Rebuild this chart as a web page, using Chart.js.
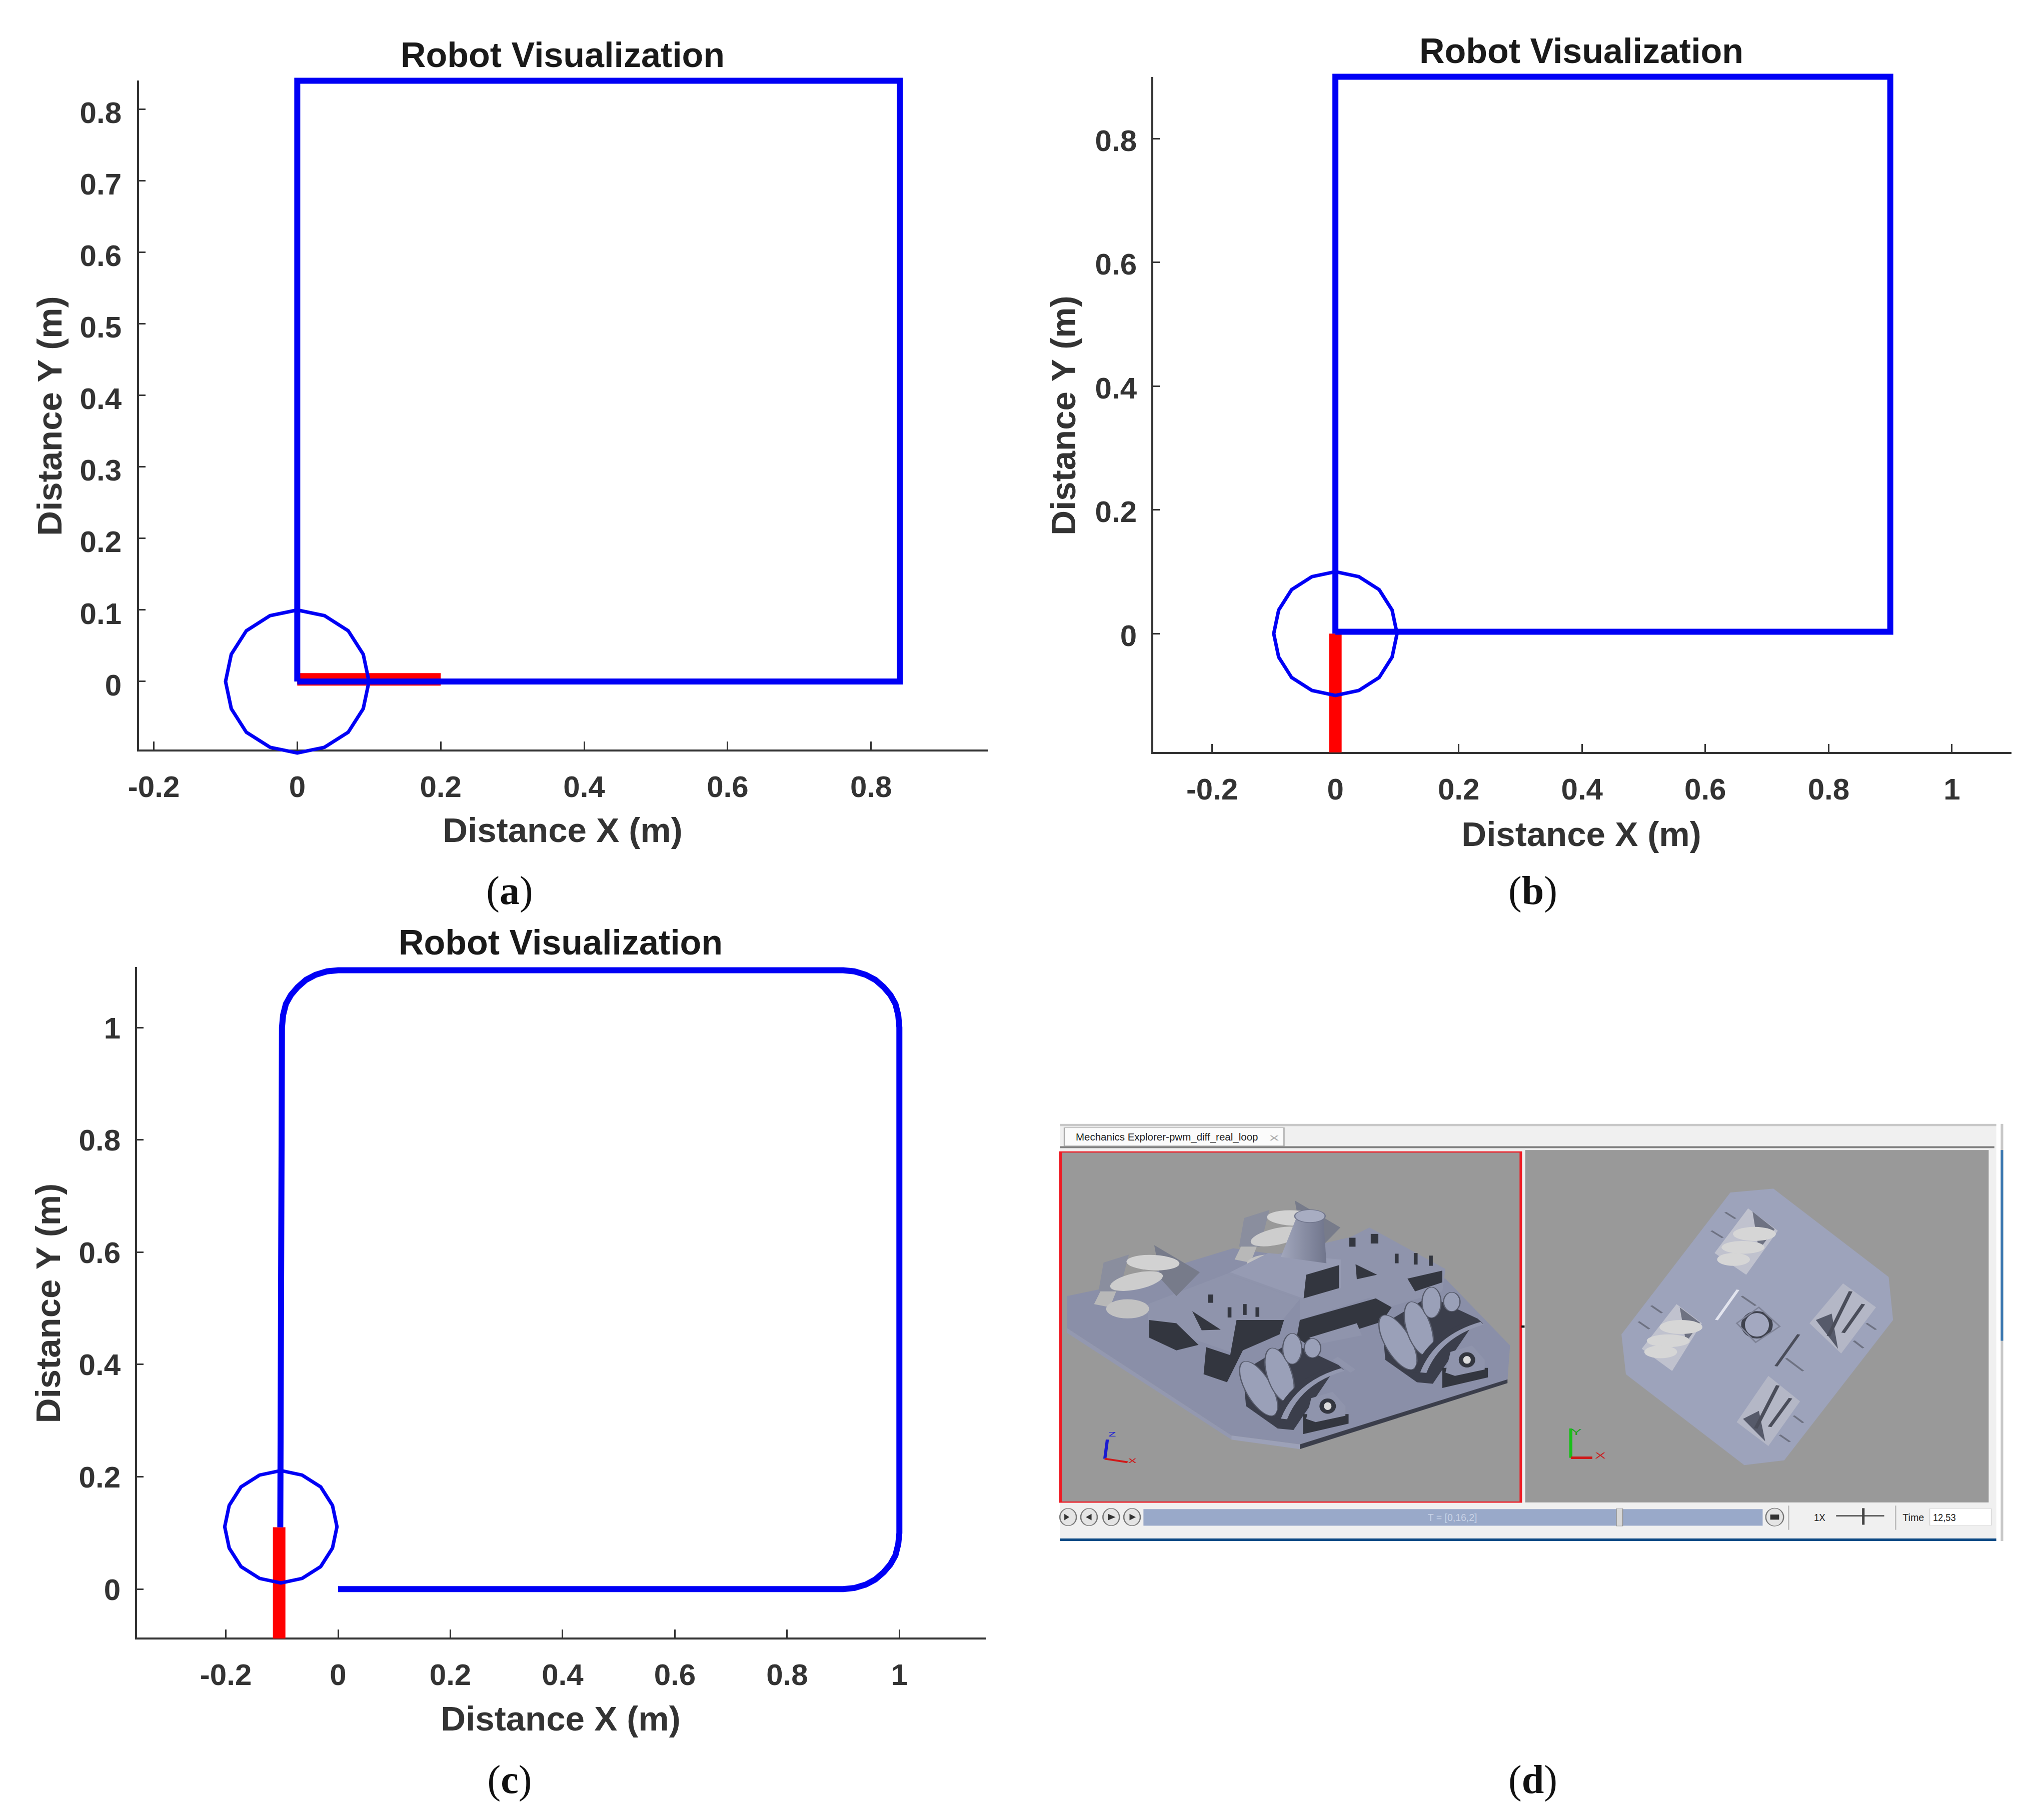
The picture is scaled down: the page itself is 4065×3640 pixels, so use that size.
<!DOCTYPE html>
<html>
<head>
<meta charset="utf-8">
<title>Robot Visualization</title>
<script src="https://cdn.jsdelivr.net/npm/chart.js@4/dist/chart.umd.min.js"></script>
<style>
    html, body { margin: 0; padding: 0; background: #fff; width: 4065px; height: 3640px; overflow: hidden; }
    canvas { position: absolute; }
    .caption { position: absolute; width: 300px; text-align: center; font: 80px/96px "Liberation Serif", serif; color: #111; }
    .caption b { font-weight: bold; }
    #sim { position: absolute; left: 2080px; top: 2200px; width: 1985px; height: 1000px; }
    #sim text { font-family: "Liberation Sans", sans-serif; }
</style>
</head>
<body>
<canvas id="chartA"></canvas>
<canvas id="chartB"></canvas>
<canvas id="chartC"></canvas>

<div class="caption" style="left:869px;top:1733px">(<b>a</b>)</div>
<div class="caption" style="left:2915px;top:1733px">(<b>b</b>)</div>
<div class="caption" style="left:869px;top:3511px">(<b>c</b>)</div>
<div class="caption" style="left:2915px;top:3511px">(<b>d</b>)</div>

<!-- panel d is a screenshot of the simulator, sketched by hand -->
<svg id="sim" viewBox="0 0 1568 1568" preserveAspectRatio="none">
    <defs>
        <linearGradient id="column" x1="0" x2="1" y1="0" y2="0">
            <stop offset="0" stop-color="#a2a7bc"/>
            <stop offset="1" stop-color="#70758c"/>
        </linearGradient>
        <g id="rearWheel">
            <polygon points="100,510 140,485 125,600 92,600" fill="#8a8e9e"/>
            <polygon points="180,455 252,540 215,615 190,560" fill="#777b8a"/>
            <polygon points="95,600 120,600 110,650 85,640" fill="#b8b8b8"/>
            <ellipse cx="178" cy="510" rx="42" ry="24" fill="#d2d2d2" transform="rotate(6 178 510)"/>
            <ellipse cx="152" cy="568" rx="46" ry="24" fill="#cdcdcd" transform="rotate(-30 152 568)"/>
            <ellipse cx="138" cy="655" rx="34" ry="30" fill="#c2c2c2"/>
        </g>
        <g id="frontWheel">
            <polygon points="320,850 395,760 470,830 400,1035 375,1030 325,960" fill="#3b3e4b"/>
            <g fill="#9aa0b8" stroke="#565a6a" stroke-width="2">
                <ellipse cx="345" cy="905" rx="22" ry="88" transform="rotate(-14 345 905)"/>
                <ellipse cx="378" cy="862" rx="20" ry="85" transform="rotate(-8 378 862)"/>
                <ellipse cx="398" cy="780" rx="15" ry="48"/>
                <ellipse cx="430" cy="778" rx="13" ry="30"/>
            </g>
            <path d="M378,1000 Q400,880 475,838" fill="none" stroke="#3b3e4b" stroke-width="18"/>
            <path d="M385,1000 Q408,885 478,845" fill="none" stroke="#9398b0" stroke-width="10"/>
            <polygon points="415,1048 415,985 487,985 487,1015" fill="#33363f"/>
            <polygon points="420,1000 428,935 462,915 482,960 482,990 435,1010" fill="#8f94ac"/>
            <ellipse cx="454" cy="960" rx="13" ry="24" fill="#33363f"/>
            <ellipse cx="454" cy="960" rx="6" ry="12" fill="#dcdcdc"/>
        </g>
    </defs>

    <rect x="31" y="75" width="1479" height="1300" fill="#f0f0f0"/>
    <rect x="31" y="75" width="1479" height="7" fill="#c8c8c8"/>
    <rect x="1517" y="75" width="4" height="1308" fill="#c8c8c8"/>
    <rect x="1517" y="157" width="4" height="598" fill="#3c78b0"/>
    <rect x="38" y="87" width="347" height="57" fill="#fbfbfb" stroke="#aaa" stroke-width="2"/>
    <text x="56" y="127" font-size="32" textLength="288" lengthAdjust="spacingAndGlyphs" fill="#222">Mechanics Explorer-pwm_diff_real_loop</text>
    <text x="362" y="127" font-size="30" fill="#aaa">x</text>
    <rect x="31" y="145" width="1476" height="6" fill="#808080"/>

    <rect x="32" y="163" width="727" height="1098" fill="#999999" stroke="#ee1c25" stroke-width="4"/>
    <rect x="766" y="157" width="732" height="1105" fill="#999999"/>
    <rect x="760" y="707" width="5" height="7" fill="#111"/>

    <!-- left view: base plate -->
    <polygon points="42,615 90,595 305,465 640,560 742,770 738,878 410,1080 302,1052 42,715" fill="#8a8fa8"/>
    <polygon points="42,715 302,1052 302,1065 42,730" fill="#9398b0"/>
    <polygon points="302,1052 410,1080 410,1095 302,1065" fill="#9ca1b8"/>
    <polygon points="410,1080 738,876 738,888 410,1095" fill="#3b3e4b"/>
    <!-- left view: body -->
    <polygon points="170,640 295,545 410,625 385,685 300,790 170,700" fill="#8f94ac"/>
    <polygon points="295,545 360,490 490,430 520,400 640,530 635,600 550,650 520,620 410,690 410,625" fill="#8f94ac"/>
    <polygon points="172,690 215,700 250,768 215,785 172,745" fill="#33363f"/>
    <polygon points="262,775 300,800 310,690 385,690 378,735 320,785 295,885 258,860" fill="#33363f"/>
    <polygon points="410,690 530,622 555,650 540,695 500,720 420,765 405,745" fill="#33363f"/>
    <polygon points="425,745 500,700 508,738 440,765" fill="#8f94ac"/>
    <polygon points="470,805 498,845 490,855 462,815" fill="#8f94ac"/>
    <g fill="#33363f">
        <polygon points="498,515 532,548 500,562"/>
        <polygon points="240,662 285,720 255,722"/>
        <polygon points="580,560 635,535 635,572 592,600"/>
        <rect x="488" y="432" width="10" height="28"/>
        <rect x="522" y="420" width="12" height="30"/>
        <rect x="560" y="482" width="6" height="30"/>
        <rect x="590" y="480" width="6" height="36"/>
        <rect x="614" y="488" width="6" height="32"/>
        <rect x="296" y="650" width="6" height="32"/>
        <rect x="320" y="640" width="6" height="34"/>
        <rect x="340" y="650" width="6" height="30"/>
        <rect x="265" y="610" width="8" height="26"/>
    </g>
    <use href="#rearWheel"/>
    <use href="#rearWheel" transform="translate(222,-140)"/>
    <!-- left view: column -->
    <polygon points="300,540 360,480 475,500 475,590 415,622" fill="#969bb3"/>
    <polygon points="420,548 472,518 472,590 416,622" fill="#33363f"/>
    <polygon points="406,362 447,362 452,512 380,492" fill="url(#column)"/>
    <ellipse cx="426" cy="364" rx="24" ry="20" fill="#a8adc2" stroke="#70758c" stroke-width="2"/>
    <use href="#frontWheel"/>
    <use href="#frontWheel" transform="translate(220,-145)"/>
    <!-- left view: axes triad -->
    <line x1="106" y1="1065" x2="102" y2="1125" stroke="#1a1ad0" stroke-width="5"/>
    <line x1="102" y1="1125" x2="138" y2="1136" stroke="#d01818" stroke-width="6"/>
    <text x="107" y="1056" font-size="26" fill="#2a2ad0">z</text>
    <text x="139" y="1138" font-size="26" fill="#c82020">x</text>

    <!-- right view -->
    <polygon points="1090,290 1158,278 1340,555 1347,690 1175,1130 1112,1145 925,860 918,735" fill="#9da3bb"/>
    <polygon points="1118,340 1165,410 1115,548 1065,480" fill="#c0c2ce"/>
    <polygon points="1125,350 1160,405 1135,470" fill="#6e7282"/>
    <ellipse cx="1128" cy="420" rx="34" ry="22" fill="#d6d6d6"/>
    <ellipse cx="1110" cy="462" rx="34" ry="20" fill="#d6d6d6"/>
    <ellipse cx="1095" cy="500" rx="26" ry="20" fill="#d6d6d6"/>
    <polygon points="1005,640 1045,700 998,850 950,780" fill="#c0c2ce"/>
    <polygon points="1010,650 1042,698 1020,760" fill="#6e7282"/>
    <ellipse cx="1012" cy="712" rx="34" ry="22" fill="#d6d6d6"/>
    <ellipse cx="992" cy="755" rx="34" ry="20" fill="#d6d6d6"/>
    <ellipse cx="980" cy="790" rx="26" ry="20" fill="#d6d6d6"/>
    <polygon points="1268,575 1320,650 1265,795 1215,700" fill="#b4b7c6"/>
    <polygon points="1225,690 1250,670 1260,780" fill="#565a6a"/>
    <line x1="1280" y1="600" x2="1245" y2="740" stroke="#4a4d5a" stroke-width="6"/>
    <line x1="1300" y1="640" x2="1268" y2="730" stroke="#4a4d5a" stroke-width="6"/>
    <polygon points="1150,865 1200,945 1150,1085 1100,1010" fill="#b4b7c6"/>
    <polygon points="1110,1000 1135,975 1145,1070" fill="#565a6a"/>
    <line x1="1165" y1="895" x2="1130" y2="1030" stroke="#4a4d5a" stroke-width="6"/>
    <line x1="1185" y1="935" x2="1152" y2="1025" stroke="#4a4d5a" stroke-width="6"/>
    <ellipse cx="1132" cy="705" rx="22" ry="40" fill="#a3a8c0" stroke="#3f424e" stroke-width="6"/>
    <polygon points="1100,700 1135,650 1168,710 1130,760" fill="none" stroke="#7e8296" stroke-width="3"/>
    <line x1="1102" y1="595" x2="1068" y2="690" stroke="#e2e4ee" stroke-width="5"/>
    <line x1="1198" y1="735" x2="1162" y2="835" stroke="#4a4d5a" stroke-width="5"/>
    <g stroke="#6e7282" stroke-width="4">
        <line x1="1060" y1="410" x2="1078" y2="432"/>
        <line x1="1082" y1="352" x2="1098" y2="372"/>
        <line x1="945" y1="695" x2="962" y2="718"/>
        <line x1="965" y1="645" x2="982" y2="668"/>
        <line x1="1305" y1="700" x2="1320" y2="720"/>
        <line x1="1285" y1="755" x2="1300" y2="778"/>
        <line x1="1190" y1="990" x2="1205" y2="1012"/>
        <line x1="1168" y1="1050" x2="1184" y2="1072"/>
        <line x1="1108" y1="615" x2="1130" y2="645"/>
        <line x1="1178" y1="810" x2="1205" y2="850"/>
    </g>
    <line x1="838" y1="1030" x2="838" y2="1122" stroke="#18c018" stroke-width="5"/>
    <line x1="838" y1="1122" x2="872" y2="1122" stroke="#d01818" stroke-width="8"/>
    <text x="838" y="1050" font-size="26" fill="#20a020">Y</text>
    <text x="876" y="1124" font-size="26" fill="#c82020">X</text>

    <!-- player controls -->
    <g fill="#e4e4e4" stroke="#777" stroke-width="2">
        <ellipse cx="44" cy="1308" rx="13" ry="27"/>
        <ellipse cx="77" cy="1308" rx="13" ry="27"/>
        <ellipse cx="112" cy="1308" rx="13" ry="27"/>
        <ellipse cx="145" cy="1308" rx="13" ry="27"/>
        <ellipse cx="1160" cy="1308" rx="14" ry="28"/>
    </g>
    <g fill="#333">
        <polygon points="38,1298 38,1318 46,1308"/>
        <polygon points="81,1298 81,1318 72,1308"/>
        <polygon points="107,1298 107,1318 119,1308"/>
        <polygon points="141,1298 141,1318 151,1308"/>
        <rect x="1153" y="1300" width="14" height="16"/>
    </g>
    <rect x="163" y="1283" width="978" height="52" fill="#99a9c9"/>
    <rect x="910" y="1282" width="10" height="54" fill="#d8d8d8" stroke="#888" stroke-width="1"/>
    <text x="612" y="1321" font-size="32" textLength="78" lengthAdjust="spacingAndGlyphs" fill="#c8d2e6">T = [0,16,2]</text>
    <rect x="1181" y="1272" width="2" height="76" fill="#bbb"/>
    <rect x="1350" y="1272" width="2" height="76" fill="#bbb"/>
    <text x="1222" y="1321" font-size="32" textLength="18" lengthAdjust="spacingAndGlyphs" fill="#222">1X</text>
    <rect x="1257" y="1302" width="76" height="4" fill="#444"/>
    <rect x="1298" y="1280" width="4" height="52" fill="#444"/>
    <text x="1362" y="1321" font-size="32" textLength="34" lengthAdjust="spacingAndGlyphs" fill="#222">Time</text>
    <rect x="1405" y="1282" width="97" height="52" fill="#fff" stroke="#ccc" stroke-width="1"/>
    <text x="1410" y="1321" font-size="32" textLength="36" lengthAdjust="spacingAndGlyphs" fill="#222">12,53</text>
    <rect x="31" y="1375" width="1479" height="8" fill="#0e4a85"/>
</svg>

<script>
// Panel a - square path
const pathAX = [0, 0, 0.84, 0.84, 0];
const pathAY = [0, 0.84, 0.84, 0, 0];
const circleAX = [0, 0.038, 0.071, 0.092, 0.1, 0.092, 0.071, 0.038, 0, -0.038, -0.071, -0.092, -0.1, -0.092, -0.071, -0.038, 0];
const circleAY = [0.1, 0.092, 0.071, 0.038, 0, -0.038, -0.071, -0.092, -0.1, -0.092, -0.071, -0.038, 0, 0.038, 0.071, 0.092, 0.1];
const headAX = [0, 0.2];
const headAY = [0.003, 0.003];
const xTicksA = [-0.2, 0, 0.2, 0.4, 0.6, 0.8];
const yTicksA = [0, 0.1, 0.2, 0.3, 0.4, 0.5, 0.6, 0.7, 0.8];

// Panel b - larger square path
const pathBX = [0, 0, 0.9, 0.9, 0];
const pathBY = [0, 0.9, 0.9, 0.003, 0.003];
const circleBX = [0, 0.038, 0.071, 0.092, 0.1, 0.092, 0.071, 0.038, 0, -0.038, -0.071, -0.092, -0.1, -0.092, -0.071, -0.038, 0];
const circleBY = [0.1, 0.092, 0.071, 0.038, 0, -0.038, -0.071, -0.092, -0.1, -0.092, -0.071, -0.038, 0, 0.038, 0.071, 0.092, 0.1];
const headBX = [0, 0];
const headBY = [0, -0.192];
const xTicksB = [-0.2, 0, 0.2, 0.4, 0.6, 0.8, 1];
const yTicksB = [0, 0.2, 0.4, 0.6, 0.8];

// Panel c - rounded path
const pathCX = [0, 0.9, 0.92, 0.94, 0.957, 0.972, 0.984, 0.993, 0.998, 1, 1, 0.998, 0.993, 0.984, 0.972, 0.957, 0.94, 0.92, 0.9, 0, -0.02, -0.04, -0.057, -0.072, -0.084, -0.093, -0.098, -0.1, -0.103];
const pathCY = [0, 0, 0.002, 0.008, 0.017, 0.03, 0.044, 0.06, 0.08, 0.1, 1, 1.022, 1.042, 1.058, 1.072, 1.085, 1.094, 1.1, 1.102, 1.102, 1.1, 1.094, 1.085, 1.072, 1.058, 1.042, 1.022, 1, 0.11];
const circleCX = [-0.102, -0.064, -0.031, -0.01, -0.002, -0.01, -0.031, -0.064, -0.102, -0.14, -0.173, -0.194, -0.202, -0.194, -0.173, -0.14, -0.102];
const circleCY = [0.211, 0.203, 0.182, 0.149, 0.111, 0.073, 0.04, 0.019, 0.011, 0.019, 0.04, 0.073, 0.111, 0.149, 0.182, 0.203, 0.211];
const headCX = [-0.105, -0.105];
const headCY = [0.11, -0.088];
const xTicksC = [-0.2, 0, 0.2, 0.4, 0.6, 0.8, 1];
const yTicksC = [0, 0.2, 0.4, 0.6, 0.8, 1];

const FONT = '"Liberation Sans", Arial, sans-serif';

function toPoints(xs, ys) {
    return xs.map((x, i) => ({ x: x, y: ys[i] }));
}

// Chart.js has no vertical offset for y tick labels, nudge them just before drawing
const nudgeYLabels = {
    id: 'nudgeYLabels',
    beforeDraw(chart, args, opts) {
        chart.scales.y.getLabelItems(chart.chartArea).forEach(item => {
            item.options.translation[1] += opts.shift;
        });
    }
};

function makeRobotChart(id, box, series, xTicks, yTicks) {
    const canvas = document.getElementById(id);
    canvas.width = box.right - box.left;
    canvas.height = box.bottom - box.top;
    canvas.style.left = box.left + 'px';
    canvas.style.top = box.top + 'px';

    new Chart(canvas, {
        type: 'scatter',
        plugins: [nudgeYLabels],
        data: {
            datasets: [
                { data: toPoints(series.pathX, series.pathY), showLine: true, borderColor: '#0000f5', borderWidth: 12, pointRadius: 0, clip: false, borderJoinStyle: 'miter' },
                { data: toPoints(series.circleX, series.circleY), showLine: true, borderColor: '#0000f5', borderWidth: 7, pointRadius: 0, clip: false },
                { data: toPoints(series.headX, series.headY), showLine: true, borderColor: '#ff0000', borderWidth: 25, pointRadius: 0, clip: false }
            ]
        },
        options: {
            responsive: false,
            animation: false,
            devicePixelRatio: 1,
            layout: { padding: { right: box.right - box.plotRight } },
            plugins: {
                legend: { display: false },
                tooltip: { enabled: false },
                nudgeYLabels: { shift: box.yShift },
                title: {
                    display: true,
                    fullSize: false,
                    text: 'Robot Visualization',
                    color: '#1a1a1a',
                    font: { family: FONT, size: 70, weight: 'bold' },
                    padding: { top: 0, bottom: box.titleGap }
                }
            },
            scales: {
                x: {
                    type: 'linear',
                    min: box.xMin,
                    max: box.xMax,
                    afterBuildTicks: scale => { scale.ticks = xTicks.map(v => ({ value: v })); },
                    afterFit: scale => { scale.height = box.bottom - box.plotBottom; },
                    border: { color: '#333333', width: 4 },
                    grid: { drawOnChartArea: false, color: '#333333', lineWidth: 3, tickLength: -18 },
                    ticks: { color: '#333333', autoSkip: false, maxRotation: 0, padding: box.xPad, font: { family: FONT, size: 60, weight: 'bold' }, callback: v => String(v) },
                    title: { display: true, text: 'Distance X (m)', color: '#333333', padding: 0, font: { family: FONT, size: 69, weight: 'bold' } }
                },
                y: {
                    type: 'linear',
                    min: box.yMin,
                    max: box.yMax,
                    afterBuildTicks: scale => { scale.ticks = yTicks.map(v => ({ value: v })); },
                    afterFit: scale => { scale.width = box.plotLeft - box.left; },
                    border: { color: '#333333', width: 4 },
                    grid: { drawOnChartArea: false, color: '#333333', lineWidth: 3, tickLength: -15 },
                    ticks: { color: '#333333', autoSkip: false, padding: box.yPad, font: { family: FONT, size: 60, weight: 'bold' }, callback: v => String(v) },
                    title: { display: true, text: 'Distance Y (m)', color: '#333333', padding: 0, font: { family: FONT, size: 69, weight: 'bold' } }
                }
            }
        }
    });
}

makeRobotChart('chartA',
    { left: 63, top: 73, right: 1994, bottom: 1706, plotLeft: 276, plotRight: 1974, plotBottom: 1501, titleGap: 6, xPad: 58, yPad: 48, yShift: 11,
      xMin: -0.222, xMax: 0.962, yMin: -0.0965, yMax: 0.839 },
    { pathX: pathAX, pathY: pathAY, circleX: circleAX, circleY: circleAY, headX: headAX, headY: headAY },
    xTicksA, yTicksA);

makeRobotChart('chartB',
    { left: 2090, top: 65, right: 4040, bottom: 1714, plotLeft: 2304, plotRight: 4020, plotBottom: 1506, titleGap: 7, xPad: 58, yPad: 46, yShift: 8,
      xMin: -0.297, xMax: 1.095, yMin: -0.193, yMax: 0.898 },
    { pathX: pathBX, pathY: pathBY, circleX: circleBX, circleY: circleBY, headX: headBX, headY: headBY },
    xTicksB, yTicksB);

makeRobotChart('chartC',
    { left: 60, top: 1848, right: 1990, bottom: 3483, plotLeft: 272, plotRight: 1970, plotBottom: 3277, titleGap: 4, xPad: 58, yPad: 46, yShift: 5,
      xMin: -0.36, xMax: 1.153, yMin: -0.088, yMax: 1.106 },
    { pathX: pathCX, pathY: pathCY, circleX: circleCX, circleY: circleCY, headX: headCX, headY: headCY },
    xTicksC, yTicksC);
</script>
</body>
</html>
